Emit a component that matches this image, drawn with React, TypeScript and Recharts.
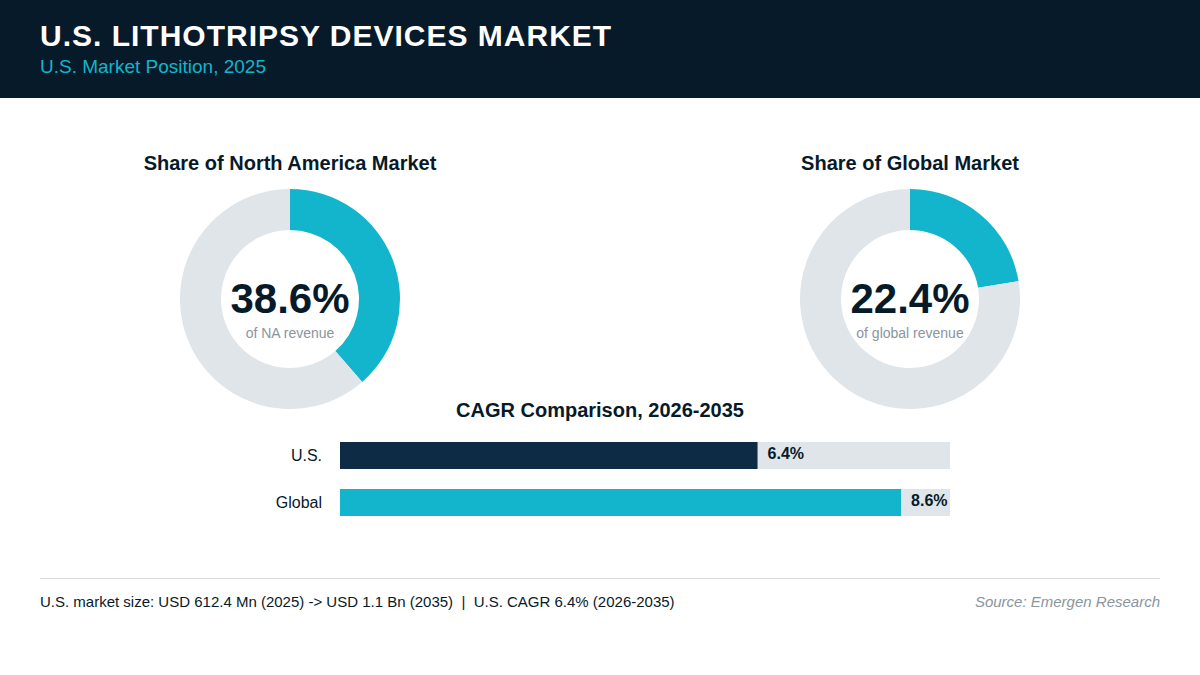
import React from 'react';
import { PieChart, Pie, Cell, BarChart, Bar, XAxis, YAxis, LabelList } from 'recharts';

const FONT = '"Liberation Sans", Arial, sans-serif';

const donutLabels = ['Share of North America Market', 'Share of Global Market'];
const donutShares = [38.6, 22.4];
const donutRest = [61.4, 77.6];
const donutCaptions = ['of NA revenue', 'of global revenue'];

const cagrCategories = ['U.S.', 'Global'];
const cagrValues = [6.4, 8.6];

const TEAL = '#12b5cb';
const NAVY = '#0d2b45';
const TRACK = '#e0e5e9';
const INK = '#071a29';
const MUTED = '#8a959e';

const cagrData = cagrCategories.map((name, i) => ({ name, value: cagrValues[i] }));

const Donut: React.FC<{ index: number; left: number }> = ({ index, left }) => {
    const data = [
        { name: 'share', value: donutShares[index] },
        { name: 'rest', value: donutRest[index] },
    ];
    return (
        <div style={{ position: 'absolute', left, top: 179 }}>
            <PieChart width={240} height={240} margin={{ top: 0, right: 0, bottom: 0, left: 0 }}>
                <Pie
                    data={data}
                    dataKey="value"
                    cx={120}
                    cy={120}
                    innerRadius={69}
                    outerRadius={110}
                    startAngle={90}
                    endAngle={-270}
                    stroke="none"
                    isAnimationActive={false}
                >
                    <Cell fill={TEAL} />
                    <Cell fill={TRACK} />
                </Pie>
            </PieChart>
        </div>
    );
};

const App: React.FC = () => {
    return (
        <div style={{ position: 'absolute', left: 0, top: 0, width: 1200, height: 675, background: '#fff', overflow: 'hidden', fontFamily: FONT }}>
            <div style={{ position: 'absolute', left: 0, top: 0, width: 1200, height: 98, background: INK }} />

            <Donut index={0} left={170} />
            <Donut index={1} left={790} />

            <div style={{ position: 'absolute', left: 260, top: 432 }}>
                <BarChart
                    width={720}
                    height={94}
                    layout="vertical"
                    data={cagrData}
                    margin={{ top: 0, right: 30, bottom: 0, left: 0 }}
                >
                    <XAxis type="number" hide domain={[0, 9.35]} />
                    <YAxis
                        type="category"
                        dataKey="name"
                        width={80}
                        axisLine={false}
                        tickLine={false}
                        tickSize={0}
                        tickMargin={18}
                        tick={{ fill: INK, fontSize: 16, fontFamily: FONT }}
                    />
                    <Bar dataKey="value" barSize={27} background={{ fill: TRACK }} isAnimationActive={false}>
                        <Cell fill={NAVY} />
                        <Cell fill={TEAL} />
                        <LabelList
                            dataKey="value"
                            position="right"
                            offset={10}
                            dy={-2}
                            formatter={(v: number) => `${v}%`}
                            style={{ fill: INK, fontSize: 16, fontWeight: 700, fontFamily: FONT }}
                        />
                    </Bar>
                </BarChart>
            </div>

            <div style={{ position: 'absolute', left: 40, top: 578, width: 1120, height: 1, background: '#d9dde0' }} />

            <svg width={1200} height={675} style={{ position: 'absolute', left: 0, top: 0, pointerEvents: 'none' }} fontFamily={FONT}>
                <text x={40} y={46} fill="#fff" fontSize={30} fontWeight={700} letterSpacing={1}>U.S. LITHOTRIPSY DEVICES MARKET</text>
                <text x={40} y={73} fill={TEAL} fontSize={19}>U.S. Market Position, 2025</text>

                <text x={290} y={170} fill={INK} fontSize={20} fontWeight={700} textAnchor="middle">{donutLabels[0]}</text>
                <text x={910} y={170} fill={INK} fontSize={20} fontWeight={700} textAnchor="middle">{donutLabels[1]}</text>

                <text x={290} y={313} fill={INK} fontSize={42} fontWeight={700} textAnchor="middle">{donutShares[0]}%</text>
                <text x={910} y={313} fill={INK} fontSize={42} fontWeight={700} textAnchor="middle">{donutShares[1]}%</text>
                <text x={290} y={338} fill={MUTED} fontSize={14} textAnchor="middle">{donutCaptions[0]}</text>
                <text x={910} y={338} fill={MUTED} fontSize={14} textAnchor="middle">{donutCaptions[1]}</text>

                <text x={600} y={417} fill={INK} fontSize={20} fontWeight={700} textAnchor="middle">CAGR Comparison, 2026-2035</text>

                <text x={40} y={607} fill={INK} fontSize={15} style={{ whiteSpace: 'pre' }}>U.S. market size: USD 612.4 Mn (2025) -&gt; USD 1.1 Bn (2035)  |  U.S. CAGR 6.4% (2026-2035)</text>
                <text x={1160} y={607} fill={MUTED} fontSize={15} fontStyle="italic" textAnchor="end">Source: Emergen Research</text>
            </svg>
        </div>
    );
};

export default App;
